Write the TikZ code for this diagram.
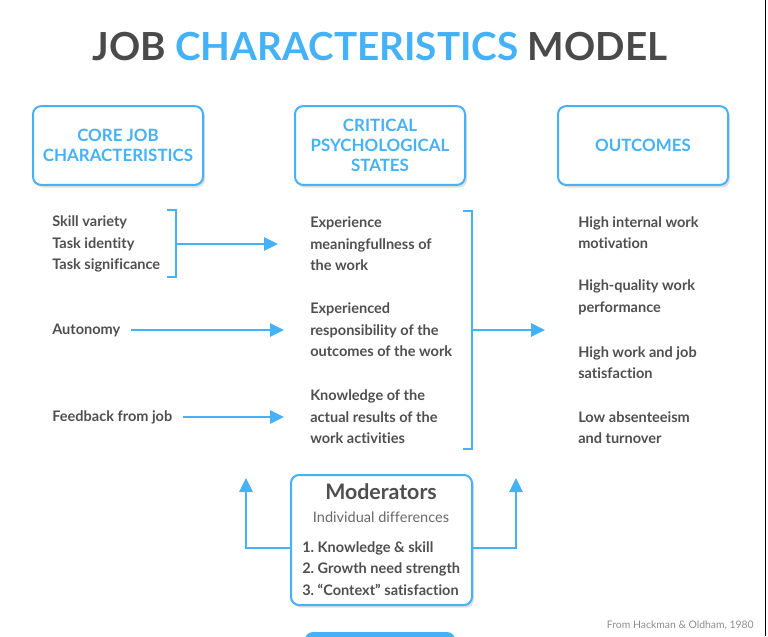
\documentclass[tikz,border=0pt]{standalone}
\usepackage{fontspec}
\setmainfont{Lato}[Ligatures=NoCommon]
\usetikzlibrary{arrows.meta,shadows}
\definecolor{jcblue}{HTML}{45B1F7}
\definecolor{jcgray}{HTML}{4F4F4F}
\definecolor{jcdark}{HTML}{4A4A4A}
\definecolor{jclight}{HTML}{8C8C8C}
\frenchspacing

\begin{document}
\begin{tikzpicture}[
    x=0.75pt, y=-0.75pt,
    title/.style={inner sep=0pt, font=\fontsize{29}{35}\selectfont\bfseries},
    hdr/.style={rectangle, rounded corners=6pt, draw=jcblue, line width=1.5pt, fill=white,
        drop shadow={opacity=0.25, shadow xshift=1.5pt, shadow yshift=-2pt},
        minimum width=127.5pt, minimum height=59pt, text=jcblue, align=center,
        font=\fontsize{12.7}{15}\selectfont\bfseries},
    item/.style={anchor=west, align=left, inner sep=0pt, text=jcgray, font=\fontsize{10.9}{16.1}\selectfont\bfseries},
    arrow/.style={-{Triangle[length=10.5pt, width=10pt]}, draw=jcblue, line width=1.5pt},
    brack/.style={draw=jcblue, line width=1.5pt}
]
    \useasboundingbox (0,0) rectangle (768,636);

    % title
    \node[title] (head) at (380,47) {\color{jcdark}JOB \color{jcblue}CHARACTERISTICS \color{jcdark}MODEL};

    % column headers
    \node[hdr] (core) at (118,145.5) {CORE JOB\\CHARACTERISTICS};
    \node[hdr] (states) at (380,145.5) {CRITICAL\\PSYCHOLOGICAL\\STATES};
    \node[hdr] (outcomes) at (643,145.5) {OUTCOMES};

    % core job characteristics
    \node[item] (dims) at (52,244) {Skill variety\\Task identity\\Task significance};
    \node[item] (autonomy) at (52,330) {Autonomy};
    \node[item] (feedback) at (52,417) {Feedback from job};

    % critical psychological states
    \node[item] (meaning) at (310,244) {Experience\\meaningfullness of\\the work};
    \node[item] (respons) at (310,330) {Experienced\\responsibility of the\\outcomes of the work};
    \node[item] (knowledge) at (310,417) {Knowledge of the\\actual results of the\\work activities};

    % outcomes
    \node[item] (motiv) at (578,232.5) {High internal work\\motivation};
    \node[item] (perf) at (578,297.5) {High-quality work\\performance};
    \node[item] (satisf) at (578,362.5) {High work and job\\satisfaction};
    \node[item] (absent) at (578,427.5) {Low absenteeism\\and turnover};

    % brackets
    \draw[brack] (167,210) -- (176,210) -- (176,277) -- (167,277);
    \draw[brack] (463,211) -- (472,211) -- (472,449) -- (463,449);
    \coordinate (lbr) at (176,244);
    \coordinate (rbr) at (472,330);

    \draw[arrow, shorten >=24pt] (lbr) -- (lbr -| meaning.west);
    \draw[arrow, shorten <=8pt, shorten >=19.5pt] (autonomy.east) -- (autonomy.east -| respons.west);
    \draw[arrow, shorten <=7.5pt, shorten >=19.5pt] (feedback.east) -- (feedback.east -| knowledge.west);
    \draw[arrow, shorten >=24.75pt] (rbr) -- (rbr -| perf.west);

    % moderators
    \node[hdr, minimum width=135.75pt, minimum height=97.5pt] (mod) at (381.5,540) {};
    \node[inner sep=0pt, text=jcgray, font=\fontsize{16}{18}\selectfont\bfseries, anchor=base] (modtitle) at (381,499) {Moderators};
    \node[inner sep=0pt, text=jcgray!85, font=\fontsize{10.9}{12}\selectfont, anchor=base] (modsub) at (381,522) {Individual differences};
    \node[item, anchor=north west] (modlist) at (302,541) {1. Knowledge \& skill\\2. Growth need strength\\3. “Context” satisfaction};

    \coordinate (upl) at (246,478);
    \coordinate (upr) at (516,478);
    \draw[arrow] ([yshift=-6pt]mod.west) -| (upl);
    \draw[arrow] ([yshift=-6pt]mod.east) -| (upr);

    % source and page edge
    \node[inner sep=0pt, anchor=base east, text=jclight, font=\fontsize{7.8}{9}\selectfont] (source) at (754,628) {From Hackman \& Oldham, 1980};
    \fill[jcblue, rounded corners=6pt] (305,632) rectangle (455,660);
    \draw[black, line width=1.2pt] (765.5,0) -- (765.5,636);
\end{tikzpicture}
\end{document}
